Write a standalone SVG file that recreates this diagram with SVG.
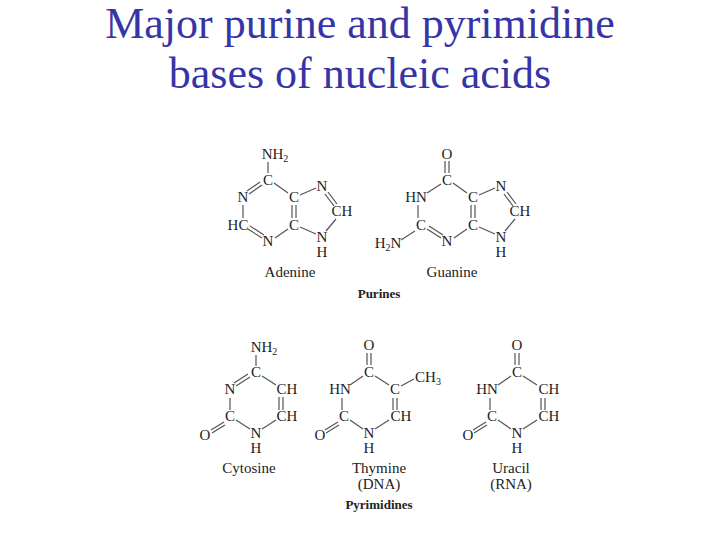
<svg xmlns="http://www.w3.org/2000/svg" width="720" height="540" viewBox="0 0 720 540">
<style>
.t{font-family:"Liberation Serif",serif;font-size:44px;fill:#3535a8;text-anchor:middle}
.a{font-family:"Liberation Serif",serif;font-size:15px;fill:#222;text-anchor:middle}
.s{font-family:"Liberation Serif",serif;font-size:10px;fill:#222}
.b{font-family:"Liberation Serif",serif;font-size:13px;font-weight:bold;fill:#222;text-anchor:middle}
line{stroke:#555;stroke-width:1.2}
</style>
<rect width="720" height="540" fill="#fff"/>
<text class="t" x="360" y="38">Major purine and pyrimidine</text>
<text class="t" x="360" y="88">bases of nucleic acids</text>

<g id="adenine">
<text class="a" x="275" y="159">NH<tspan class="s" dy="3">2</tspan></text>
<text class="a" x="268" y="185">C</text>
<text class="a" x="243" y="202">N</text>
<text class="a" x="294" y="202">C</text>
<text class="a" x="322" y="191">N</text>
<text class="a" x="342" y="216">CH</text>
<text class="a" x="238" y="230">HC</text>
<text class="a" x="294" y="230">C</text>
<text class="a" x="322" y="242">N</text>
<text class="a" x="322" y="257">H</text>
<text class="a" x="268" y="246">N</text>
<text class="a" x="290" y="277">Adenine</text>
<line x1="268" y1="162" x2="268" y2="173"/>
<line x1="262" y1="185" x2="249" y2="194"/><line x1="260" y1="182" x2="247" y2="191"/>
<line x1="243" y1="205" x2="243" y2="218"/>
<line x1="248" y1="229" x2="262" y2="238"/><line x1="250" y1="226" x2="264" y2="235"/>
<line x1="275" y1="238" x2="288" y2="229"/>
<line x1="292" y1="205" x2="292" y2="218"/><line x1="296" y1="205" x2="296" y2="218"/>
<line x1="274" y1="183" x2="288" y2="193"/>
<line x1="300" y1="195" x2="316" y2="188"/>
<line x1="325" y1="194" x2="334" y2="206"/><line x1="328" y1="192" x2="337" y2="204"/>
<line x1="336" y1="219" x2="326" y2="231"/>
<line x1="300" y1="227" x2="316" y2="234"/>
</g>

<g id="guanine">
<text class="a" x="447" y="159">O</text>
<text class="a" x="447" y="185">C</text>
<text class="a" x="416" y="202">HN</text>
<text class="a" x="473" y="202">C</text>
<text class="a" x="501" y="191">N</text>
<text class="a" x="520" y="216">CH</text>
<text class="a" x="421" y="230">C</text>
<text class="a" x="473" y="230">C</text>
<text class="a" x="501" y="242">N</text>
<text class="a" x="501" y="257">H</text>
<text class="a" x="447" y="246">N</text>
<text class="a" x="388" y="248">H<tspan class="s" dy="3">2</tspan><tspan dy="-3">N</tspan></text>
<text class="a" x="452" y="277">Guanine</text>
<line x1="445" y1="161" x2="445" y2="173"/><line x1="449" y1="161" x2="449" y2="173"/>
<line x1="441" y1="184" x2="427" y2="193"/>
<line x1="418" y1="205" x2="418" y2="218"/>
<line x1="427" y1="229" x2="441" y2="238"/><line x1="429" y1="226" x2="443" y2="235"/>
<line x1="454" y1="238" x2="467" y2="229"/>
<line x1="471" y1="205" x2="471" y2="218"/><line x1="475" y1="205" x2="475" y2="218"/>
<line x1="453" y1="183" x2="467" y2="193"/>
<line x1="479" y1="195" x2="495" y2="188"/>
<line x1="504" y1="194" x2="513" y2="206"/><line x1="507" y1="192" x2="516" y2="204"/>
<line x1="515" y1="219" x2="505" y2="231"/>
<line x1="479" y1="227" x2="495" y2="234"/>
<line x1="401" y1="240" x2="415" y2="231"/>
</g>
<text class="b" x="379" y="298">Purines</text>

<g id="cytosine">
<text class="a" x="264" y="352">NH<tspan class="s" dy="3">2</tspan></text>
<text class="a" x="256" y="377">C</text>
<text class="a" x="230" y="394">N</text>
<text class="a" x="287" y="394">CH</text>
<text class="a" x="230" y="421">C</text>
<text class="a" x="287" y="421">CH</text>
<text class="a" x="205" y="440">O</text>
<text class="a" x="256" y="438">N</text>
<text class="a" x="256" y="453">H</text>
<text class="a" x="249" y="473">Cytosine</text>
<line x1="256" y1="355" x2="256" y2="366"/>
<line x1="250" y1="377" x2="236" y2="386"/><line x1="248" y1="374" x2="234" y2="383"/>
<line x1="262" y1="376" x2="276" y2="385"/>
<line x1="279" y1="397" x2="279" y2="410"/><line x1="283" y1="397" x2="283" y2="410"/>
<line x1="230" y1="398" x2="230" y2="410"/>
<line x1="224" y1="422" x2="211" y2="430"/><line x1="225" y1="425" x2="212" y2="433"/>
<line x1="236" y1="420" x2="250" y2="429"/>
<line x1="262" y1="429" x2="276" y2="420"/>
</g>

<g id="thymine">
<text class="a" x="369" y="350">O</text>
<text class="a" x="369" y="377">C</text>
<text class="a" x="340" y="394">HN</text>
<text class="a" x="395" y="394">C</text>
<text class="a" x="428" y="382">CH<tspan class="s" dy="3">3</tspan></text>
<text class="a" x="344" y="421">C</text>
<text class="a" x="401" y="421">CH</text>
<text class="a" x="320" y="440">O</text>
<text class="a" x="369" y="438">N</text>
<text class="a" x="369" y="453">H</text>
<text class="a" x="379" y="473">Thymine</text>
<text class="a" x="379" y="489">(DNA)</text>
<line x1="367" y1="353" x2="367" y2="365"/><line x1="371" y1="353" x2="371" y2="365"/>
<line x1="363" y1="376" x2="350" y2="385"/>
<line x1="375" y1="376" x2="389" y2="385"/>
<line x1="401" y1="386" x2="414" y2="379"/>
<line x1="393" y1="398" x2="393" y2="410"/><line x1="397" y1="398" x2="397" y2="410"/>
<line x1="342" y1="398" x2="342" y2="410"/>
<line x1="338" y1="422" x2="325" y2="430"/><line x1="339" y1="425" x2="326" y2="433"/>
<line x1="350" y1="420" x2="363" y2="429"/>
<line x1="375" y1="429" x2="389" y2="420"/>
</g>

<g id="uracil">
<text class="a" x="517" y="350">O</text>
<text class="a" x="517" y="377">C</text>
<text class="a" x="487" y="394">HN</text>
<text class="a" x="549" y="394">CH</text>
<text class="a" x="492" y="421">C</text>
<text class="a" x="549" y="421">CH</text>
<text class="a" x="468" y="440">O</text>
<text class="a" x="517" y="438">N</text>
<text class="a" x="517" y="453">H</text>
<text class="a" x="511" y="473">Uracil</text>
<text class="a" x="511" y="489">(RNA)</text>
<line x1="515" y1="353" x2="515" y2="365"/><line x1="519" y1="353" x2="519" y2="365"/>
<line x1="511" y1="376" x2="498" y2="385"/>
<line x1="523" y1="376" x2="537" y2="385"/>
<line x1="541" y1="398" x2="541" y2="410"/><line x1="545" y1="398" x2="545" y2="410"/>
<line x1="490" y1="398" x2="490" y2="410"/>
<line x1="486" y1="422" x2="473" y2="430"/><line x1="487" y1="425" x2="474" y2="433"/>
<line x1="498" y1="420" x2="511" y2="429"/>
<line x1="523" y1="429" x2="537" y2="420"/>
</g>
<text class="b" x="379" y="509">Pyrimidines</text>
</svg>
